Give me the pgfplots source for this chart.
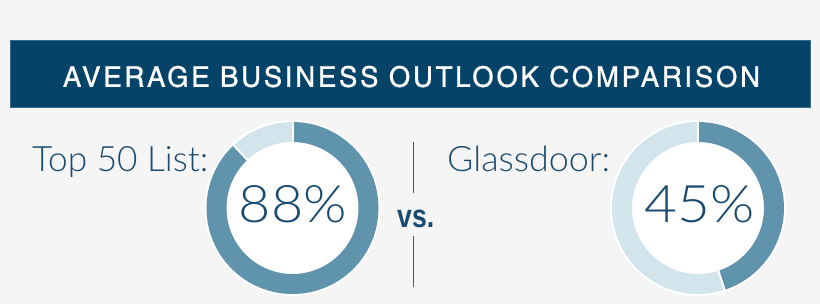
\documentclass[border=0pt]{standalone}
\usepackage{pgfplots}
\pgfplotsset{compat=1.18}
\usepackage{pgfplotstable}
\usepackage{graphicx}
\usepackage{fontspec}
\setmainfont{Liberation Sans}
\newfontfamily\lightfont{Lato Light}
\newfontfamily\condfont{texgyreheroscn-regular.otf}[LetterSpace=8,FakeBold=0.7]
\definecolor{bg}{HTML}{F5F5F5}
\definecolor{banner}{HTML}{064369}
\definecolor{bannerEdge}{HTML}{3A6A8E}
\definecolor{label}{HTML}{1A4A6E}
\definecolor{darkseg}{HTML}{6093AC}
\definecolor{lightseg}{HTML}{D2E5EC}
\definecolor{vsline}{HTML}{555555}

\pgfplotstableread{
name value cx cy
Top50 88 292.5 208
Glassdoor 45 698 208
}\donutdata
\pgfplotstablegetelem{0}{value}\of\donutdata \edef\valA{\pgfplotsretval}
\pgfplotstablegetelem{1}{value}\of\donutdata \edef\valB{\pgfplotsretval}
\pgfplotstablegetelem{0}{cx}\of\donutdata \edef\cxA{\pgfplotsretval}
\pgfplotstablegetelem{1}{cx}\of\donutdata \edef\cxB{\pgfplotsretval}
\pgfplotstablegetelem{0}{cy}\of\donutdata \edef\cyA{\pgfplotsretval}
\pgfplotstablegetelem{1}{cy}\of\donutdata \edef\cyB{\pgfplotsretval}

\newcommand\donut[3]{%
  \fill[white] (axis cs:#1,#2) circle[radius=88bp];
  \draw[line width=20bp, darkseg] (axis cs:#1,#2) ++(90:76bp)
     arc[start angle=90, delta angle={-3.6*#3}, radius=76bp];
  \draw[line width=20bp, lightseg] (axis cs:#1,#2) ++({90-3.6*#3}:76bp)
     arc[start angle={90-3.6*#3}, end angle=-270, radius=76bp];
  \draw[white, line width=2bp] (axis cs:#1,#2) ++(90:64bp) -- ++(90:24bp);
  \draw[white, line width=2bp] (axis cs:#1,#2) ++({90-3.6*#3}:64bp) -- ++({90-3.6*#3}:24bp);
}

\begin{document}
\begin{tikzpicture}
\begin{axis}[
  scale only axis, width=820bp, height=304bp,
  xmin=0, xmax=820, ymin=0, ymax=304, y dir=reverse,
  hide axis, clip=false,
]
\fill[bg] (axis cs:0,0) rectangle (axis cs:820,304);
\fill[banner] (axis cs:10,40) rectangle (axis cs:810,107);
\draw[bannerEdge, line width=0.6bp] (axis cs:10,40) rectangle (axis cs:810,107);
\node[anchor=base, text=white, inner sep=0pt] at (axis cs:411.5,86.8)
  {\resizebox{697bp}{21bp}{\condfont AVERAGE BUSINESS OUTLOOK COMPARISON}};

\donut{\cxA}{\cyA}{\valA}
\donut{\cxB}{\cyB}{\valB}

\node[anchor=base west, text=label, inner sep=0pt] at (axis cs:32,171)
  {\resizebox{176bp}{25bp}{\lightfont Top 50 List:}};
\node[anchor=base west, text=label, inner sep=0pt] at (axis cs:447,171)
  {\resizebox{163bp}{25.5bp}{\lightfont Glassdoor:}};
\node[anchor=base, text=label, inner sep=0pt] at (axis cs:293,222)
  {\resizebox{108bp}{37bp}{\lightfont 88\%}};
\node[anchor=base, text=label, inner sep=0pt] at (axis cs:700,222)
  {\resizebox{110bp}{37bp}{\lightfont 45\%}};
\node[anchor=base west, text=label, inner sep=0pt] at (axis cs:397,227)
  {\resizebox{37bp}{17.5bp}{\bfseries vs.}};
\draw[vsline, line width=1bp] (axis cs:413,142) -- (axis cs:413,193);
\draw[vsline, line width=1bp] (axis cs:413,236) -- (axis cs:413,287);
\end{axis}
\end{tikzpicture}
\end{document}
